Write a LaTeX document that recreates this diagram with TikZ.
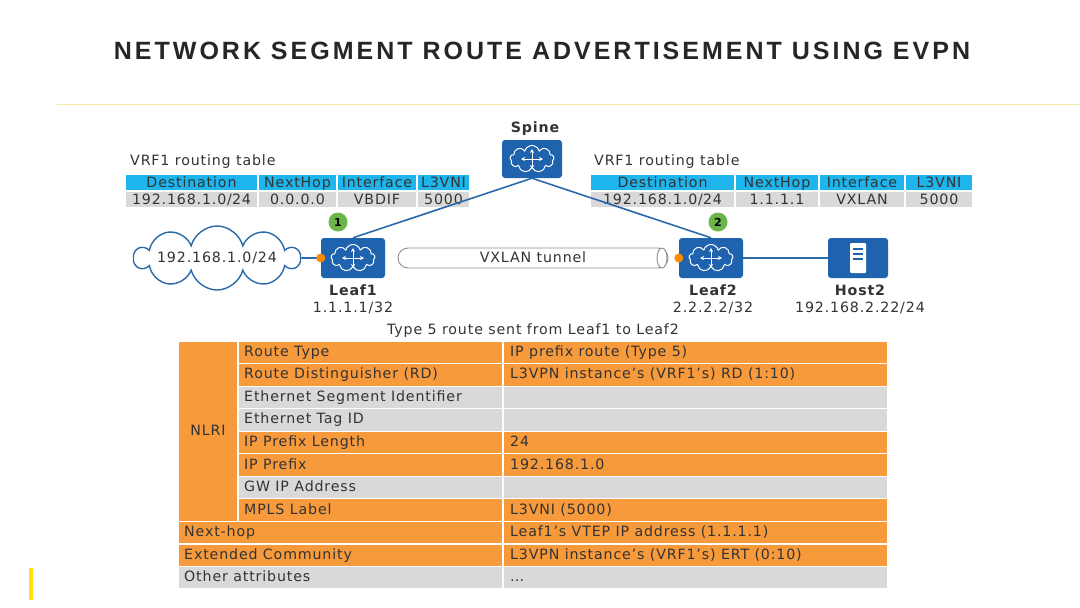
\documentclass[tikz,border=0pt]{standalone}
\usepackage{fontspec}
\setmainfont[LetterSpace=6]{DejaVu Sans}
\newfontfamily\titlefont[LetterSpace=12]{Liberation Sans}
\usetikzlibrary{shapes.symbols,arrows.meta}
\definecolor{hdr}{HTML}{1EB4EC}
\definecolor{gry}{HTML}{D9D9D9}
\definecolor{org}{HTML}{F79A3C}
\definecolor{icn}{HTML}{1F63AE}
\definecolor{lnk}{HTML}{2A6AA8}
\definecolor{ylw}{HTML}{F7E9A0}
\definecolor{grn}{HTML}{6BB54A}
\tikzset{
 tx/.style={font=\fontsize{14.2}{15}\selectfont, text=black!80, inner sep=0pt, text height=10pt, text depth=2pt},
 bold/.style={tx, font=\fontsize{14.2}{15}\selectfont\bfseries},
 cell/.style={draw=white, line width=1.2pt},
 link/.style={draw=lnk, line width=1.6pt},
 dev/.style={fill=icn, rounded corners=3pt, minimum width=64pt, minimum height=40pt, inner sep=0pt},
 badge/.style={circle, fill=grn, minimum size=19pt, inner sep=0pt, font=\fontsize{11}{12}\selectfont\bfseries},
 pics/router/.style={code={
   \node[cloud, cloud puffs=9, draw=white, line width=1pt, minimum width=44pt, minimum height=27pt, aspect=1.8] at (0,0) {};
   \draw[white, line width=1pt, {Stealth[length=4pt,width=4pt]}-{Stealth[length=4pt,width=4pt]}] (-11,0) -- (11,0);
   \draw[white, line width=1pt, {Stealth[length=4pt,width=4pt]}-{Stealth[length=4pt,width=4pt]}] (0,-10) -- (0,10);
 }}
}
\begin{document}
\begin{tikzpicture}[x=1pt,y=-1pt]
\useasboundingbox (0,0) rectangle (1080,608);
\fill[white] (0,0) rectangle (1080,608);
% title
\node[font=\titlefont\fontsize{25}{28}\selectfont\bfseries, text=black!85] (title) at (542,51) {NETWORK SEGMENT ROUTE ADVERTISEMENT USING EVPN};
\fill[ylw] (57,103.5) rectangle (1080,105);
\fill[yellow!85!orange] (29,568) rectangle (33,600);

% left routing table
\node[tx, anchor=west] (lt) at (130,161) {VRF1 routing table};
\foreach \a/\b/\h/\v in {125/258/Destination/192.168.1.0\slash 24, 258/337/NextHop/0.0.0.0, 337/417/Interface/VBDIF, 417/470/L3VNI/5000}{
  \fill[hdr,cell] (\a,174) rectangle (\b,191);
  \fill[gry,cell] (\a,191) rectangle (\b,208);
  \node[tx] at ({(\a+\b)/2},183) {\h};
  \node[tx] at ({(\a+\b)/2},200) {\v};
}
% right routing table
\node[tx, anchor=west] (rt) at (594,161) {VRF1 routing table};
\foreach \a/\b/\h/\v in {590/735/Destination/192.168.1.0\slash 24, 735/819/NextHop/1.1.1.1, 819/905/Interface/VXLAN, 905/973/L3VNI/5000}{
  \fill[hdr,cell] (\a,174) rectangle (\b,191);
  \fill[gry,cell] (\a,191) rectangle (\b,208);
  \node[tx] at ({(\a+\b)/2},183) {\h};
  \node[tx] at ({(\a+\b)/2},200) {\v};
}

% devices
\node[dev, minimum width=60pt, minimum height=38pt] (spine) at (532,159) {};
\pic at (532,159) {router};
\node[bold] at (535,128) {Spine};
\node[dev] (leaf1) at (353,258) {};
\pic at (353,258) {router};
\node[dev] (leaf2) at (711,258) {};
\pic at (711,258) {router};
\node[dev, minimum width=60pt] (host2) at (858,258) {};
\fill[white, rounded corners=1pt] (850,243) rectangle (866,273);
\fill[icn] (853,248) rectangle (863,250);
\fill[icn] (853,253) rectangle (863,255);
\fill[icn] (853,258) rectangle (863,260);

\node[cloud, cloud puffs=10, draw=lnk, line width=1.4pt, fill=white, minimum width=165pt, minimum height=64pt, aspect=2.6, inner sep=0pt] (net) at (217,258) {};
\node[tx] (netl) at (217,258) {192.168.1.0/24};

\draw[link] (spine.south) -- (leaf1.north);
\draw[link] (spine.south) -- (leaf2.north);
\draw[link] (net.east) -- (leaf1.west);
\draw[link] (leaf2.east) -- (host2.west);
\fill[orange!90!yellow] (leaf1.west) circle (4.5);
\fill[orange!90!yellow] (leaf2.west) circle (4.5);

\node[draw=black!45, line width=0.9pt, rounded corners=10pt, minimum width=270pt, minimum height=20pt, tx, fill=white] (tun) at (533,258) {VXLAN tunnel};
\draw[black!45, line width=0.9pt, fill=white] (662,258) ellipse[x radius=5, y radius=10];

\node[badge] (b1) at (338,222) {1};
\node[badge] (b2) at (718,222) {2};

\node[bold] at (353,291) {Leaf1};
\node[tx] at (353,308) {1.1.1.1/32};
\node[bold] at (713,291) {Leaf2};
\node[tx] at (713,308) {2.2.2.2/32};
\node[bold] at (860,291) {Host2};
\node[tx] at (860,308) {192.168.2.22/24};

% big table
\node[tx] (cap) at (533,330) {Type 5 route sent from Leaf1 to Leaf2};
\def\rh{22.55}
\foreach \i/\c/\n/\v in {0/org/Route Type/IP prefix route (Type 5),
 1/org/Route Distinguisher (RD)/L3VPN instance's (VRF1's) RD (1:10),
 2/gry/Ethernet Segment Identifier/,
 3/gry/Ethernet Tag ID/,
 4/org/IP Prefix Length/24,
 5/org/IP Prefix/192.168.1.0,
 6/gry/GW IP Address/,
 7/org/MPLS Label/L3VNI (5000)}{
  \fill[\c,cell] (238,{341+\i*\rh}) rectangle (503,{341+(\i+1)*\rh});
  \fill[\c,cell] (503,{341+\i*\rh}) rectangle (888,{341+(\i+1)*\rh});
  \node[tx, anchor=west] at (244,{341+(\i+0.5)*\rh}) {\n};
  \node[tx, anchor=west] at (510,{341+(\i+0.5)*\rh}) {\v};
}
\fill[org,cell] (178,341) rectangle (238,{341+8*\rh});
\node[tx] (nlri) at (208,{341+4*\rh}) {NLRI};
\foreach \i/\c/\n/\v in {8/org/Next-hop/Leaf1's VTEP IP address (1.1.1.1),
 9/org/Extended Community/L3VPN instance's (VRF1's) ERT (0:10),
 10/gry/Other attributes/\textellipsis}{
  \fill[\c,cell] (178,{341+\i*\rh}) rectangle (503,{341+(\i+1)*\rh});
  \fill[\c,cell] (503,{341+\i*\rh}) rectangle (888,{341+(\i+1)*\rh});
  \node[tx, anchor=west] at (184,{341+(\i+0.5)*\rh}) {\n};
  \node[tx, anchor=west] at (510,{341+(\i+0.5)*\rh}) {\v};
}
\end{tikzpicture}
\end{document}
